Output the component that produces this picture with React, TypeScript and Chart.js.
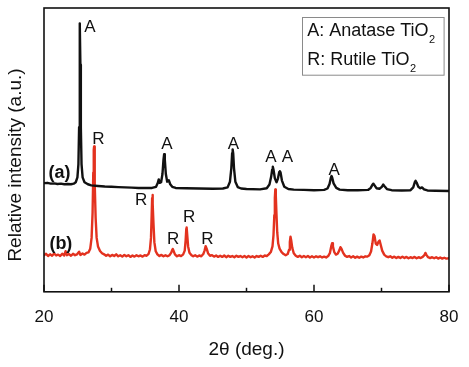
import React, { useEffect, useRef } from "react";
import { Chart, registerables } from "chart.js";

Chart.register(...registerables);

// Pattern (a): anatase-rich sample, [2θ, intensity]
const seriesA: [number, number][] = [
  [20, 38.3], [20.5, 38.4], [21, 38.1], [21.5, 38.2], [22, 38.0], [22.5, 38.1], [23, 37.9],
  [23.5, 38.0], [24, 37.9], [24.4, 38.1], [24.7, 38.6], [24.95, 40.3], [25.1, 45], [25.2, 58],
  [25.27, 80], [25.33, 94.6], [25.39, 80], [25.46, 58], [25.56, 45], [25.72, 40.3], [26.0, 38.6],
  [26.5, 37.9], [27, 37.5], [28, 37.3], [29, 37.1], [30, 37.0], [31, 36.9], [32, 36.8], [33, 36.7],
  [34, 36.6], [35, 36.6], [36, 36.6], [36.6, 37.0], [36.85, 38.3], [37.0, 39.6], [37.15, 38.4],
  [37.35, 38.6], [37.55, 41.5], [37.7, 46.5], [37.8, 48.5], [37.9, 46.5], [38.05, 41.5],
  [38.25, 38.8], [38.5, 39.3], [38.7, 37.9], [39.0, 37.0], [39.5, 36.6], [41, 36.5], [43, 36.4],
  [45, 36.3], [46.5, 36.4], [47.2, 36.8], [47.55, 38.8], [47.75, 43.5], [47.87, 48.8],
  [47.95, 50.2], [48.03, 48.8], [48.15, 43.5], [48.35, 38.8], [48.7, 36.9], [49.2, 36.4],
  [50, 36.2], [52, 36.1], [53.0, 36.5], [53.4, 37.8], [53.65, 40.5], [53.8, 43], [53.9, 44.1],
  [54.0, 43], [54.2, 40], [54.45, 38.6], [54.65, 39.8], [54.85, 42.2], [54.95, 42.5], [55.05, 42],
  [55.25, 39.2], [55.6, 37.0], [56.2, 36.2], [57, 36.0], [58.5, 35.9], [60, 35.8], [61.5, 35.9],
  [62.0, 36.4], [62.3, 38.0], [62.5, 40.2], [62.6, 40.8], [62.7, 40.2], [62.9, 38.2], [63.3, 36.6],
  [63.8, 36.0], [65, 35.8], [66.5, 35.8], [68.0, 35.9], [68.4, 36.6], [68.65, 37.7], [68.8, 38.1],
  [68.95, 37.6], [69.25, 36.5], [69.7, 36.3], [70.05, 37.0], [70.25, 37.8], [70.45, 37.2],
  [70.8, 36.2], [71.5, 35.8], [73, 35.7], [74.3, 35.8], [74.7, 36.8], [74.95, 38.7], [75.05, 39.1],
  [75.2, 38.5], [75.45, 37.0], [75.75, 36.5], [76.0, 36.8], [76.3, 36.1], [76.8, 35.7], [78, 35.6],
  [80, 35.5],
];

// Pattern (b): rutile-rich sample, [2θ, intensity]
const seriesB: [number, number][] = [
  [20, 12.9], [20.3, 13.4], [20.6, 12.6], [20.9, 13.2], [21.2, 12.7], [21.5, 13.5], [21.8, 12.8],
  [22.1, 13.1], [22.4, 12.6], [22.7, 13.4], [23.0, 12.8], [23.2, 14.3], [23.4, 12.9], [23.7, 13.3],
  [24.0, 12.7], [24.3, 13.4], [24.6, 12.9], [24.9, 13.2], [25.2, 14.1], [25.4, 13.0], [25.7, 13.5],
  [26.0, 13.1], [26.3, 13.7], [26.6, 13.9], [26.85, 15.2], [27.05, 19], [27.2, 28], [27.3, 42],
  [27.37, 50], [27.42, 51.2], [27.48, 48], [27.55, 38], [27.65, 26], [27.8, 19], [28.0, 16],
  [28.3, 14.4], [28.6, 13.6], [28.9, 13.2], [29.2, 12.7], [29.5, 13.1], [29.8, 12.5], [30.1, 13.0],
  [30.4, 12.6], [30.7, 13.2], [31.0, 12.5], [31.3, 12.9], [31.6, 12.4], [31.9, 13.0], [32.2, 12.5],
  [32.5, 12.9], [32.8, 12.3], [33.1, 12.8], [33.4, 12.4], [33.7, 12.9], [34.0, 12.5], [34.3, 12.8],
  [34.6, 12.4], [34.9, 12.9], [35.2, 12.7], [35.5, 13.4], [35.7, 15], [35.85, 19], [35.95, 27],
  [36.02, 33], [36.07, 34.1], [36.13, 31], [36.22, 24], [36.35, 17.5], [36.55, 14.3], [36.8, 13.2],
  [37.1, 12.6], [37.4, 13.0], [37.7, 12.5], [38.0, 12.9], [38.3, 12.5], [38.6, 12.9], [38.85, 13.8],
  [39.0, 14.8], [39.08, 15.1], [39.2, 14.4], [39.4, 13.2], [39.7, 12.5], [40.0, 12.9], [40.3, 12.6],
  [40.6, 13.1], [40.85, 14.5], [40.98, 18], [41.08, 22.2], [41.13, 22.7], [41.22, 20], [41.35, 16],
  [41.55, 13.8], [41.85, 12.9], [42.1, 12.5], [42.4, 12.9], [42.7, 12.4], [43.0, 12.8], [43.3, 12.5],
  [43.6, 13.3], [43.8, 14.6], [43.95, 16.1], [44.1, 15.2], [44.3, 13.6], [44.6, 12.7], [44.9, 12.9],
  [45.2, 12.4], [45.5, 12.8], [45.8, 12.3], [46.1, 12.7], [46.4, 12.3], [46.7, 12.8], [47.0, 12.2],
  [47.3, 12.7], [47.6, 12.3], [47.9, 12.6], [48.2, 12.2], [48.5, 12.7], [48.8, 12.3], [49.1, 12.6],
  [49.4, 12.2], [49.7, 12.6], [50.0, 12.1], [50.3, 12.6], [50.6, 12.2], [50.9, 12.5], [51.2, 12.1],
  [51.5, 12.6], [51.8, 12.3], [52.1, 12.7], [52.4, 12.3], [52.7, 12.8], [53.0, 12.6], [53.3, 13.2],
  [53.6, 14.0], [53.85, 16], [54.0, 20], [54.12, 27], [54.2, 33], [54.27, 36.1], [54.34, 34],
  [54.43, 28], [54.55, 21], [54.7, 17], [54.9, 15.2], [55.2, 14.0], [55.5, 13.3], [55.8, 12.9],
  [56.1, 13.3], [56.3, 14.8], [56.42, 17.5], [56.52, 19.4], [56.62, 18.2], [56.78, 15.5],
  [57.0, 13.6], [57.3, 12.7], [57.6, 12.3], [57.9, 12.7], [58.2, 12.2], [58.5, 12.6], [58.8, 12.2],
  [59.1, 12.6], [59.4, 12.1], [59.7, 12.5], [60.0, 12.1], [60.3, 12.5], [60.6, 12.2], [60.9, 12.5],
  [61.2, 12.1], [61.5, 12.4], [61.8, 12.1], [62.1, 12.6], [62.35, 13.6], [62.55, 16], [62.68, 17.1],
  [62.8, 16], [63.0, 14.0], [63.25, 13.1], [63.5, 13.4], [63.75, 14.6], [63.92, 15.7], [64.05, 15.3],
  [64.3, 13.8], [64.6, 12.7], [64.9, 12.3], [65.2, 12.6], [65.5, 12.1], [65.8, 12.5], [66.1, 12.0],
  [66.4, 12.4], [66.7, 12.0], [67.0, 12.4], [67.3, 12.1], [67.6, 12.5], [67.9, 12.4], [68.2, 12.9],
  [68.45, 14.2], [68.65, 17], [68.82, 20.2], [68.97, 19.6], [69.15, 17], [69.35, 16.5],
  [69.55, 17.6], [69.72, 18.1], [69.9, 16.4], [70.1, 14.5], [70.4, 13.1], [70.7, 12.5],
  [71.0, 12.2], [71.3, 12.5], [71.6, 12.0], [71.9, 12.4], [72.2, 11.9], [72.5, 12.3], [72.8, 11.9],
  [73.1, 12.4], [73.4, 11.9], [73.7, 12.3], [74.0, 11.8], [74.3, 12.2], [74.6, 11.9], [74.9, 12.3],
  [75.2, 11.8], [75.5, 12.2], [75.8, 11.9], [76.1, 12.3], [76.35, 12.9], [76.5, 13.7], [76.65, 13.0],
  [76.9, 12.2], [77.2, 11.9], [77.5, 12.2], [77.8, 11.8], [78.1, 12.2], [78.4, 11.7], [78.7, 12.1],
  [79.0, 11.7], [79.3, 12.0], [79.6, 11.7], [80, 11.8],
];

// Peak labels: [text, 2θ, intensity]
const peakLabels: [string, number, number][] = [
  ["A", 26.8, 93.3],
  ["R", 28.05, 53.6],
  ["A", 38.2, 51.9],
  ["A", 48.05, 51.9],
  ["A", 53.6, 47.3],
  ["A", 56.05, 47.3],
  ["A", 63.0, 42.8],
  ["R", 34.4, 32.4],
  ["R", 39.15, 18.5],
  ["R", 41.5, 26.3],
  ["R", 44.2, 18.5],
];

// Sample labels: [text, 2θ, intensity]
const sampleLabels: [string, number, number][] = [
  ["(a)", 22.3, 41.9],
  ["(b)", 22.5, 16.8],
];

const legendLines: [string, string][] = [
  ["A: Anatase TiO", "2"],
  ["R: Rutile TiO", "2"],
];

const majorTicks = [20, 40, 60, 80];
const minorTicks = [30, 50, 70];

const FONT = "'Liberation Sans', Arial, sans-serif";

const decorPlugin = {
  id: "decor",
  afterDatasetsDraw(chart: any) {
    const { ctx, chartArea, scales } = chart;
    const xs = scales.x;
    const ys = scales.y;
    ctx.save();
    // frame
    ctx.strokeStyle = "#111";
    ctx.lineWidth = 1.6;
    ctx.strokeRect(chartArea.left, chartArea.top, chartArea.right - chartArea.left, chartArea.bottom - chartArea.top);
    // inward ticks
    ctx.lineWidth = 1.5;
    const drawTick = (v: number, len: number) => {
      const px = xs.getPixelForValue(v);
      ctx.beginPath();
      ctx.moveTo(px, chartArea.bottom);
      ctx.lineTo(px, chartArea.bottom - len);
      ctx.stroke();
    };
    majorTicks.forEach((v) => drawTick(v, 7));
    minorTicks.forEach((v) => drawTick(v, 4));

    // peak labels
    ctx.fillStyle = "#111";
    ctx.textAlign = "center";
    ctx.textBaseline = "middle";
    ctx.font = `17px ${FONT}`;
    peakLabels.forEach(([t, x, y]) => {
      ctx.fillText(t, xs.getPixelForValue(x), ys.getPixelForValue(y));
    });
    ctx.font = `bold 18px ${FONT}`;
    sampleLabels.forEach(([t, x, y]) => {
      ctx.fillText(t, xs.getPixelForValue(x), ys.getPixelForValue(y));
    });

    // legend box
    const bw = 141.6;
    const bh = 57.7;
    const bx = chartArea.right - 5.7 - bw;
    const by = chartArea.top + 9.3;
    ctx.strokeStyle = "#8a8a8a";
    ctx.lineWidth = 1;
    ctx.strokeRect(Math.round(bx) + 0.5, Math.round(by) + 0.5, bw, bh);
    ctx.textAlign = "left";
    ctx.textBaseline = "alphabetic";
    legendLines.forEach(([main, sub], i) => {
      const base = by + 19 + i * 29;
      ctx.font = `18px ${FONT}`;
      ctx.fillStyle = "#111";
      ctx.fillText(main, bx + 5.5, base);
      const w = ctx.measureText(main).width;
      ctx.font = `11px ${FONT}`;
      ctx.fillText(sub, bx + 5.5 + w + 0.5, base + 6.5);
    });

    // y-axis title
    ctx.save();
    ctx.translate(16, 165);
    ctx.rotate(-Math.PI / 2);
    ctx.font = `19px ${FONT}`;
    ctx.fillStyle = "#111";
    ctx.textAlign = "center";
    ctx.textBaseline = "middle";
    ctx.fillText("Relative intensity (a.u.)", 0, 0);
    ctx.restore();

    ctx.restore();
  },
};

export default function App() {
  const canvasRef = useRef<HTMLCanvasElement | null>(null);

  useEffect(() => {
    if (!canvasRef.current) return;
    const chart = new Chart(canvasRef.current, {
      type: "line",
      data: {
        datasets: [
          {
            label: "(a)",
            data: seriesA.map(([x, y]) => ({ x, y })),
            borderColor: "#111111",
            borderWidth: 2.4,
            borderJoinStyle: "round",
            borderCapStyle: "round",
            pointRadius: 0,
            tension: 0,
          },
          {
            label: "(b)",
            data: seriesB.map(([x, y]) => ({ x, y })),
            borderColor: "#e3321f",
            borderWidth: 2.4,
            borderJoinStyle: "round",
            borderCapStyle: "round",
            pointRadius: 0,
            tension: 0,
          },
        ],
      },
      options: {
        responsive: false,
        animation: false,
        layout: { padding: { left: 44, right: 20, top: 8, bottom: 2 } },
        plugins: {
          legend: { display: false },
          tooltip: { enabled: false },
        },
        scales: {
          x: {
            type: "linear",
            min: 20,
            max: 80,
            afterBuildTicks: (axis: any) => {
              axis.ticks = majorTicks.map((v) => ({ value: v }));
            },
            ticks: {
              padding: 7,
              color: "#111",
              font: { family: FONT, size: 17 },
              autoSkip: false,
              maxRotation: 0,
            },
            grid: { display: false },
            border: { display: false },
            title: {
              display: true,
              text: "2θ (deg.)",
              color: "#111",
              font: { family: FONT, size: 19 },
              padding: { top: 4, bottom: 4 },
            },
          },
          y: {
            display: false,
            min: 0,
            max: 100,
          },
        },
      },
      plugins: [decorPlugin],
    });
    return () => chart.destroy();
  }, []);

  return (
    <canvas
      ref={canvasRef}
      width={469}
      height={367}
      style={{ position: "fixed", left: 0, top: 0, display: "block" }}
    />
  );
}
